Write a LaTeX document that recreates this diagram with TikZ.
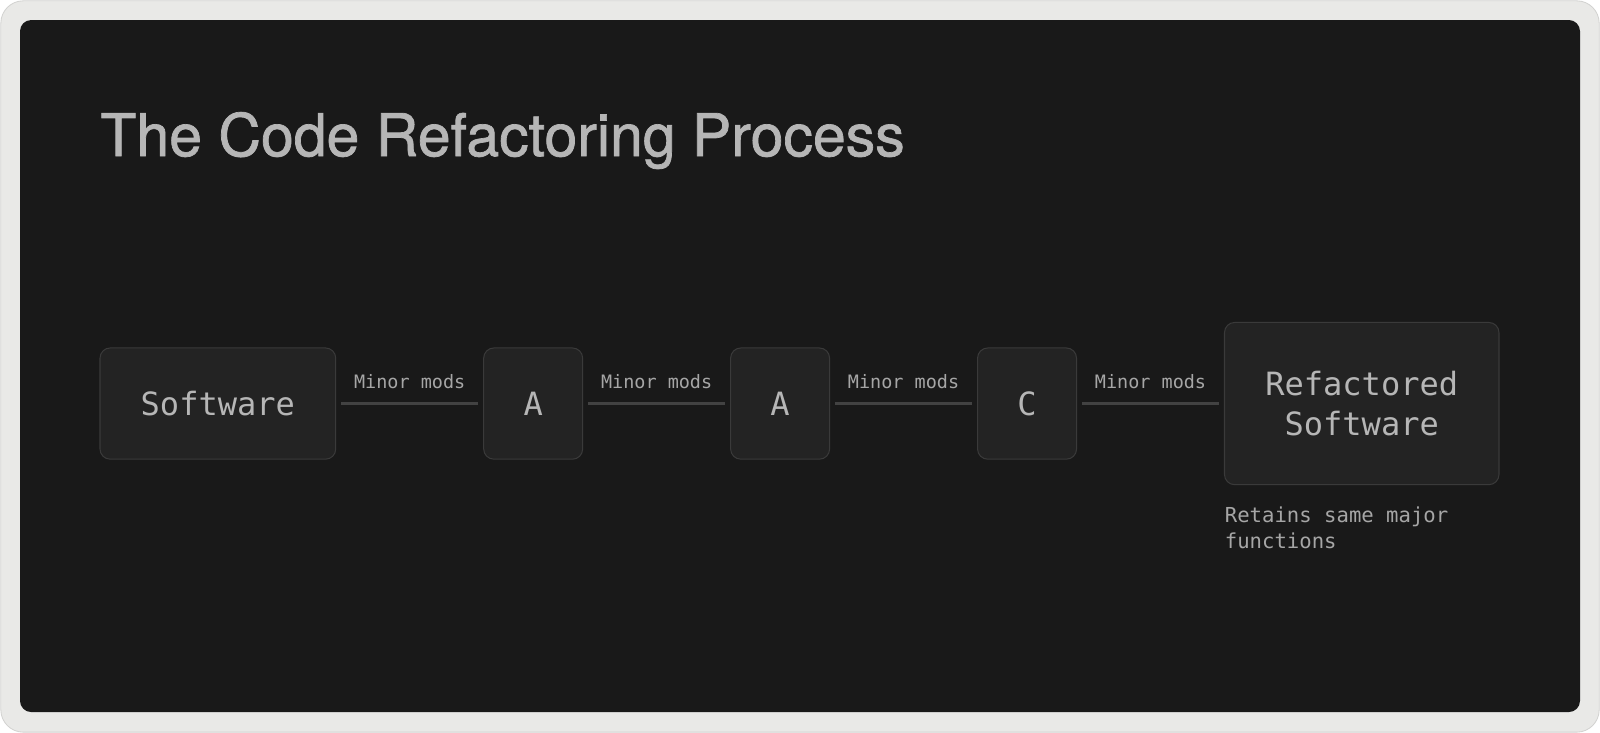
\documentclass[tikz,border=0pt]{standalone}
\usepackage{fontspec}
\setmainfont{TeX Gyre Heros}
\setmonofont{DejaVu Sans Mono}
\usepackage{tikz}
\definecolor{frame}{HTML}{E9E9E7}
\definecolor{frameline}{HTML}{D2D2D0}
\definecolor{panel}{HTML}{191919}
\definecolor{boxfill}{HTML}{232323}
\definecolor{boxline}{HTML}{3A3A3A}
\definecolor{ink}{HTML}{B6B6B6}
\definecolor{softink}{HTML}{A6A6A6}
\definecolor{wire}{HTML}{424242}
\tikzset{%
  block/.style    = {shape=rectangle, rounded corners=5pt, draw=boxline,%
                     line width=0.5pt, fill=boxfill, align=center, text=ink,%
                     font=\ttfamily\fontsize{15.7}{20}\selectfont, inner sep=0pt},%
  smallblock/.style = {block, minimum width=48.5pt, minimum height=54.5pt},%
  bigblock/.style = {block, minimum width=134.5pt, minimum height=79.5pt},%
  mods/.style     = {font=\ttfamily\fontsize{9.05}{10}\selectfont, text=softink},%
  wirelink/.style = {draw=wire, line width=1.3pt, shorten <=2.5pt, shorten >=2.5pt}%
}
\begin{document}
\begin{tikzpicture}[x=0.5pt,y=-0.5pt]
		\useasboundingbox (0,0) rectangle (1568,718.3);
		\draw[frameline, fill=frame, rounded corners=11pt] (0.8,0.8) rectangle (1567.2,717.5);
		\fill[panel, rounded corners=5.5pt] (19.6,19.6) rectangle (1548.4,697.8);
		\node[anchor=base west, text=ink, font=\fontsize{28.9}{32}\selectfont\addfontfeature{FakeBold=1.2}, inner sep=0pt] (title) at (98,153) {The Code Refactoring Process};
		% the chain of versions
		\node[block, minimum width=115.5pt, minimum height=54.5pt] (sw) at (213.5,395.5) {Software};
		\node[smallblock] (a1) at (522.5,395.5) {A};
		\node[smallblock] (a2) at (764.5,395.5) {A};
		\node[smallblock] (c) at (1006.5,395.5) {C};
		\node[bigblock] (rs) at (1334.5,395.5) {Refactored\\Software};
		\foreach \from/\to in {sw/a1, a1/a2, a2/c, c/rs}
			\draw[wirelink] (\from) -- node[mods, above=3.5pt] {Minor mods} (\to);
		\node[mods, font=\ttfamily\fontsize{10.1}{13}\selectfont, anchor=north west, align=left, inner sep=0pt] (note) at (1200,496) {Retains same major\\functions};
\end{tikzpicture}
\end{document}
